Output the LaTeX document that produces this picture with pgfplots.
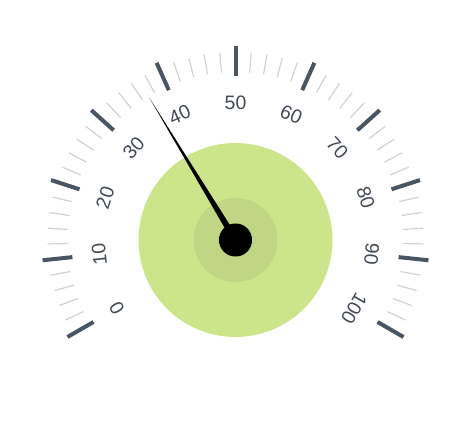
\documentclass[border=0pt]{standalone}
\usepackage{fontspec}
\setmainfont{Liberation Sans}
\usepackage{pgfplots}
\pgfplotsset{compat=1.18}
\definecolor{tickc}{HTML}{4A5564}
\definecolor{minorc}{HTML}{D2D2D2}
\definecolor{lblc}{HTML}{434A57}
\definecolor{gout}{HTML}{CDE58A}
\definecolor{ginn}{HTML}{C0D685}
\begin{document}
\begin{tikzpicture}
\begin{axis}[
 width=474bp, height=422bp, scale only axis,
 xmin=-235.5, xmax=238.5, ymin=-182, ymax=240,
 hide axis, clip=false,
]
\path[fill=white] (rel axis cs:0,0) rectangle (rel axis cs:1,1);
% minor ticks
\pgfplotsinvokeforeach{0,2,...,100}{
  \draw[minorc, line width=1.2bp] (axis cs:{168*cos(210-2.4*#1)},{168*sin(210-2.4*#1)}) -- (axis cs:{188*cos(210-2.4*#1)},{188*sin(210-2.4*#1)});
}
% major ticks
\pgfplotsinvokeforeach{0,10,...,100}{
  \draw[tickc, line width=4bp] (axis cs:{164*cos(210-2.4*#1)},{164*sin(210-2.4*#1)}) -- (axis cs:{194*cos(210-2.4*#1)},{194*sin(210-2.4*#1)});
  \node[text=lblc, font=\fontsize{19.5}{20}\selectfont, rotate={120-2.4*#1}, inner sep=0pt] at (axis cs:{137*cos(210-2.4*#1)},{137*sin(210-2.4*#1)}) {#1};
}
% dial
\addplot[draw=none, fill=gout, domain=0:360, samples=181] ({97*cos(x)},{97*sin(x)}) -- cycle;
\addplot[draw=none, fill=ginn, domain=0:360, samples=121] ({42*cos(x)},{42*sin(x)}) -- cycle;
% needle (value 37)
\addplot[fill=black, draw=none] table[row sep=\\,
  x expr={\thisrow{r}*cos(210-2.4*\thisrow{v}+\thisrow{da})},
  y expr={\thisrow{r}*sin(210-2.4*\thisrow{v}+\thisrow{da})}] {
  v da r \\
  37 0 166 \\
  37 90 3.3 \\
  37 -90 3.3 \\
} -- cycle;
\addplot[draw=none, fill=black, domain=0:360, samples=91] ({16.5*cos(x)},{16.5*sin(x)}) -- cycle;
\end{axis}
\end{tikzpicture}
\end{document}
